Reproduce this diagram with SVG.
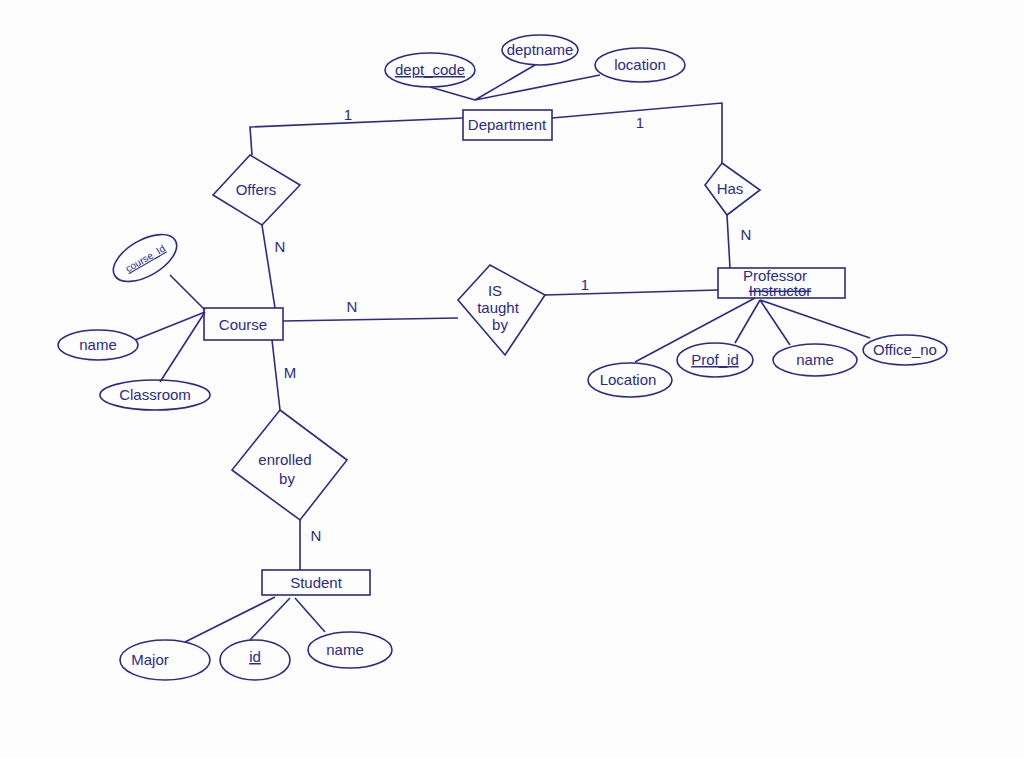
<svg xmlns="http://www.w3.org/2000/svg" width="1024" height="758" viewBox="0 0 1024 758">
<style>
.s{fill:none;stroke:#2b2b86;stroke-width:1.6}
.t{font-family:"Liberation Sans",sans-serif;font-size:15px;fill:#2b2b86;text-anchor:middle}
.u{text-decoration:underline}
</style>
<rect width="1024" height="758" fill="#fdfdfd"/>
<g id="connectors" class="s">
<path d="M475,100 L430,87 M475,100 L535,65 M475,100 L600,75"/>
<path d="M463,118 L250,127 L252,155 M262,225 L275,308"/>
<path d="M552,118 L722,103 L722,163 M727,215 L730,268"/>
<path d="M283,321 L458,318 M545,295 L718,290"/>
<path d="M170,275 L205,310 M135,340 L205,312 M160,382 L205,312"/>
<path d="M272,340 L280,410 M300,520 L300,570"/>
<path d="M185,642 L275,597 M250,640 L290,598 M325,632 L295,598"/>
<path d="M635,362 L755,298 M735,343 L760,300 M790,345 L760,300 M870,338 L760,300"/>
</g>
<g class="t">
<text x="348" y="120">1</text><text x="640" y="128">1</text>
<text x="280" y="252">N</text><text x="746" y="240">N</text>
<text x="352" y="312">N</text><text x="585" y="290">1</text>
<text x="290" y="378">M</text><text x="316" y="541">N</text>
</g>
<g id="dept_code"><ellipse class="s" cx="430" cy="70" rx="45" ry="17"/><text class="t u" x="430" y="75">dept_code</text></g>
<g id="deptname"><ellipse class="s" cx="540" cy="50" rx="38" ry="15"/><text class="t" x="540" y="55">deptname</text></g>
<g id="location"><ellipse class="s" cx="640" cy="65" rx="45" ry="17"/><text class="t" x="640" y="70">location</text></g>
<g id="department"><rect class="s" x="463" y="110" width="89" height="30"/><text class="t" x="507" y="130">Department</text></g>
<g id="offers"><path class="s" d="M250,155 L300,185 L262,225 L213,195 Z"/><text class="t" x="256" y="195">Offers</text></g>
<g id="has"><path class="s" d="M722,163 L760,190 L727,215 L705,185 Z"/><text class="t" x="730" y="194">Has</text></g>
<g id="professor"><rect class="s" x="718" y="268" width="127" height="30"/><text class="t" x="775" y="281">Professor</text><text class="t" x="780" y="296" text-decoration="line-through">Instructor</text></g>
<g id="course"><rect class="s" x="204" y="308" width="79" height="32"/><text class="t" x="243" y="330">Course</text></g>
<g id="taught"><path class="s" d="M458,300 L490,265 L545,295 L505,355 Z"/><text class="t" x="495" y="296">IS</text><text class="t" x="498" y="313">taught</text><text class="t" x="500" y="330">by</text></g>
<g id="course_id"><ellipse class="s" cx="145" cy="258" rx="35" ry="18" transform="rotate(-30 145 258)"/><text class="t u" x="145" y="262" style="font-size:10px" transform="rotate(-30 145 258)">course_Id</text></g>
<g id="cname"><ellipse class="s" cx="98" cy="345" rx="40" ry="15"/><text class="t" x="98" y="350">name</text></g>
<g id="classroom"><ellipse class="s" cx="155" cy="395" rx="55" ry="15"/><text class="t" x="155" y="400">Classroom</text></g>
<g id="enrolled"><path class="s" d="M280,410 L347,460 L300,520 L232,470 Z"/><text class="t" x="285" y="465">enrolled</text><text class="t" x="287" y="484">by</text></g>
<g id="student"><rect class="s" x="262" y="570" width="108" height="25"/><text class="t" x="316" y="588">Student</text></g>
<g id="major"><ellipse class="s" cx="165" cy="660" rx="45" ry="20"/><text class="t" x="150" y="665">Major</text></g>
<g id="sid"><ellipse class="s" cx="255" cy="660" rx="35" ry="20"/><text class="t u" x="255" y="662">id</text></g>
<g id="sname"><ellipse class="s" cx="350" cy="650" rx="42" ry="18"/><text class="t" x="345" y="655">name</text></g>
<g id="plocation"><ellipse class="s" cx="630" cy="380" rx="42" ry="17"/><text class="t" x="628" y="385">Location</text></g>
<g id="prof_id"><ellipse class="s" cx="715" cy="360" rx="38" ry="17"/><text class="t u" x="715" y="365">Prof_id</text></g>
<g id="pname"><ellipse class="s" cx="815" cy="360" rx="42" ry="16"/><text class="t" x="815" y="365">name</text></g>
<g id="office"><ellipse class="s" cx="905" cy="350" rx="42" ry="15"/><text class="t" x="905" y="355">Office_no</text></g>
</svg>
